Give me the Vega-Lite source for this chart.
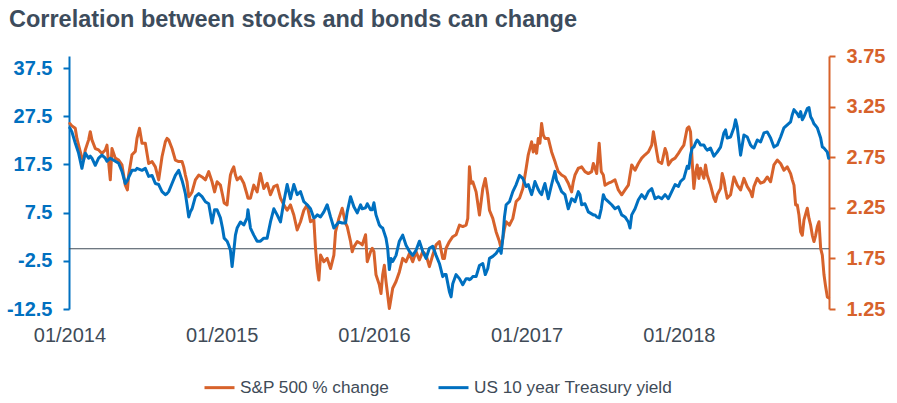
{
  "$schema": "https://vega.github.io/schema/vega-lite/v6.json",
  "width": 760,
  "height": 253,
  "autosize": {"type": "none"},
  "padding": {"left": 69, "top": 56, "right": 68, "bottom": 94},
  "background": "white",
  "title": {
    "text": "Correlation between stocks and bonds can change",
    "anchor": "start",
    "frame": "group",
    "dx": -60,
    "dy": -11,
    "font": "Liberation Sans",
    "fontSize": 23.5,
    "fontWeight": "bold",
    "color": "#3D4C5C"
  },
  "config": {
    "view": {"stroke": null},
    "font": "Liberation Sans",
    "locale": {"number": {"decimal": ".", "thousands": ",", "grouping": [3], "currency": ["$", ""], "minus": "-"}}
  },
  "data": {
    "values": [
      {"d": "2014-01-02", "sp": 26.0, "ty": 3.04},
      {"d": "2014-01-07", "sp": 25.5, "ty": 3.00},
      {"d": "2014-01-15", "sp": 25.0, "ty": 2.89},
      {"d": "2014-01-19", "sp": 22.9, "ty": 2.84},
      {"d": "2014-01-23", "sp": 21.5, "ty": 2.79},
      {"d": "2014-01-31", "sp": 18.8, "ty": 2.64},
      {"d": "2014-02-04", "sp": 18.4, "ty": 2.72},
      {"d": "2014-02-08", "sp": 20.5, "ty": 2.79},
      {"d": "2014-02-16", "sp": 22.6, "ty": 2.74},
      {"d": "2014-02-20", "sp": 24.3, "ty": 2.76},
      {"d": "2014-02-24", "sp": 22.6, "ty": 2.74},
      {"d": "2014-03-04", "sp": 20.8, "ty": 2.67},
      {"d": "2014-03-12", "sp": 20.5, "ty": 2.74},
      {"d": "2014-03-20", "sp": 19.8, "ty": 2.77},
      {"d": "2014-03-28", "sp": 20.5, "ty": 2.74},
      {"d": "2014-04-01", "sp": 21.5, "ty": 2.71},
      {"d": "2014-04-09", "sp": 14.3, "ty": 2.74},
      {"d": "2014-04-13", "sp": 20.8, "ty": 2.73},
      {"d": "2014-04-21", "sp": 18.8, "ty": 2.71},
      {"d": "2014-04-29", "sp": 18.4, "ty": 2.69},
      {"d": "2014-05-07", "sp": 17.4, "ty": 2.61},
      {"d": "2014-05-15", "sp": 13.2, "ty": 2.49},
      {"d": "2014-05-20", "sp": 12.2, "ty": 2.52},
      {"d": "2014-05-23", "sp": 15.3, "ty": 2.55},
      {"d": "2014-05-31", "sp": 19.5, "ty": 2.62},
      {"d": "2014-06-08", "sp": 20.2, "ty": 2.62},
      {"d": "2014-06-12", "sp": 22.9, "ty": 2.64},
      {"d": "2014-06-18", "sp": 25.0, "ty": 2.63},
      {"d": "2014-06-24", "sp": 21.9, "ty": 2.62},
      {"d": "2014-07-02", "sp": 21.9, "ty": 2.64},
      {"d": "2014-07-10", "sp": 17.7, "ty": 2.56},
      {"d": "2014-07-18", "sp": 18.1, "ty": 2.57},
      {"d": "2014-07-26", "sp": 17.0, "ty": 2.49},
      {"d": "2014-08-03", "sp": 14.3, "ty": 2.48},
      {"d": "2014-08-11", "sp": 19.1, "ty": 2.41},
      {"d": "2014-08-19", "sp": 22.2, "ty": 2.38},
      {"d": "2014-08-23", "sp": 22.9, "ty": 2.39},
      {"d": "2014-08-27", "sp": 22.6, "ty": 2.41},
      {"d": "2014-09-04", "sp": 20.8, "ty": 2.49},
      {"d": "2014-09-12", "sp": 18.4, "ty": 2.57},
      {"d": "2014-09-20", "sp": 18.1, "ty": 2.62},
      {"d": "2014-09-28", "sp": 18.1, "ty": 2.52},
      {"d": "2014-10-02", "sp": 17.0, "ty": 2.46},
      {"d": "2014-10-06", "sp": 15.3, "ty": 2.39},
      {"d": "2014-10-10", "sp": 13.9, "ty": 2.28},
      {"d": "2014-10-14", "sp": 10.8, "ty": 2.16},
      {"d": "2014-10-18", "sp": 11.2, "ty": 2.21},
      {"d": "2014-10-22", "sp": 11.8, "ty": 2.24},
      {"d": "2014-10-30", "sp": 14.3, "ty": 2.36},
      {"d": "2014-11-07", "sp": 15.3, "ty": 2.39},
      {"d": "2014-11-15", "sp": 14.9, "ty": 2.36},
      {"d": "2014-11-23", "sp": 14.3, "ty": 2.31},
      {"d": "2014-12-01", "sp": 16.0, "ty": 2.29},
      {"d": "2014-12-09", "sp": 13.9, "ty": 2.10},
      {"d": "2014-12-15", "sp": 11.8, "ty": 2.23},
      {"d": "2014-12-21", "sp": 13.9, "ty": 2.23},
      {"d": "2014-12-29", "sp": 13.2, "ty": 2.15},
      {"d": "2015-01-03", "sp": 11.2, "ty": 2.05},
      {"d": "2015-01-07", "sp": 9.5, "ty": 1.95},
      {"d": "2015-01-14", "sp": 9.1, "ty": 1.92},
      {"d": "2015-01-18", "sp": 12.5, "ty": 1.88},
      {"d": "2015-01-22", "sp": 15.3, "ty": 1.83},
      {"d": "2015-01-26", "sp": 16.3, "ty": 1.67},
      {"d": "2015-01-30", "sp": 17.0, "ty": 1.82},
      {"d": "2015-02-03", "sp": 15.3, "ty": 1.98},
      {"d": "2015-02-07", "sp": 14.3, "ty": 2.05},
      {"d": "2015-02-15", "sp": 14.9, "ty": 2.11},
      {"d": "2015-02-23", "sp": 13.6, "ty": 2.08},
      {"d": "2015-03-03", "sp": 11.2, "ty": 2.15},
      {"d": "2015-03-05", "sp": 10.5, "ty": 2.23},
      {"d": "2015-03-11", "sp": 10.5, "ty": 2.05},
      {"d": "2015-03-19", "sp": 13.2, "ty": 1.98},
      {"d": "2015-03-27", "sp": 11.8, "ty": 1.92},
      {"d": "2015-04-04", "sp": 15.6, "ty": 1.92},
      {"d": "2015-04-12", "sp": 12.5, "ty": 1.95},
      {"d": "2015-04-20", "sp": 13.6, "ty": 1.95},
      {"d": "2015-04-28", "sp": 11.2, "ty": 2.11},
      {"d": "2015-05-06", "sp": 12.9, "ty": 2.24},
      {"d": "2015-05-14", "sp": 13.2, "ty": 2.18},
      {"d": "2015-05-22", "sp": 10.5, "ty": 2.11},
      {"d": "2015-05-30", "sp": 9.1, "ty": 2.31},
      {"d": "2015-06-07", "sp": 8.0, "ty": 2.48},
      {"d": "2015-06-15", "sp": 9.1, "ty": 2.34},
      {"d": "2015-06-23", "sp": 7.0, "ty": 2.48},
      {"d": "2015-07-01", "sp": 3.9, "ty": 2.38},
      {"d": "2015-07-09", "sp": 5.6, "ty": 2.41},
      {"d": "2015-07-17", "sp": 8.0, "ty": 2.31},
      {"d": "2015-07-25", "sp": 9.1, "ty": 2.28},
      {"d": "2015-08-02", "sp": 5.6, "ty": 2.24},
      {"d": "2015-08-10", "sp": 6.0, "ty": 2.15},
      {"d": "2015-08-14", "sp": 0.1, "ty": 2.16},
      {"d": "2015-08-18", "sp": -4.1, "ty": 2.18},
      {"d": "2015-08-22", "sp": -6.5, "ty": 2.17},
      {"d": "2015-08-26", "sp": -1.3, "ty": 2.16},
      {"d": "2015-09-03", "sp": -2.7, "ty": 2.21},
      {"d": "2015-09-11", "sp": -2.0, "ty": 2.28},
      {"d": "2015-09-19", "sp": -4.1, "ty": 2.16},
      {"d": "2015-09-27", "sp": -1.3, "ty": 2.05},
      {"d": "2015-10-01", "sp": 3.5, "ty": 2.07},
      {"d": "2015-10-09", "sp": 6.3, "ty": 2.11},
      {"d": "2015-10-17", "sp": 8.4, "ty": 2.10},
      {"d": "2015-10-25", "sp": 5.3, "ty": 2.10},
      {"d": "2015-10-29", "sp": 4.6, "ty": 2.21},
      {"d": "2015-11-06", "sp": 1.5, "ty": 2.36},
      {"d": "2015-11-10", "sp": -0.6, "ty": 2.31},
      {"d": "2015-11-14", "sp": 0.4, "ty": 2.26},
      {"d": "2015-11-22", "sp": 1.5, "ty": 2.20},
      {"d": "2015-11-30", "sp": 1.1, "ty": 2.28},
      {"d": "2015-12-04", "sp": 0.8, "ty": 2.24},
      {"d": "2015-12-12", "sp": 2.9, "ty": 2.25},
      {"d": "2015-12-16", "sp": -2.7, "ty": 2.29},
      {"d": "2015-12-24", "sp": -0.6, "ty": 2.23},
      {"d": "2015-12-28", "sp": 0.1, "ty": 2.23},
      {"d": "2016-01-01", "sp": -0.6, "ty": 2.30},
      {"d": "2016-01-06", "sp": -5.4, "ty": 2.18},
      {"d": "2016-01-14", "sp": -7.5, "ty": 2.08},
      {"d": "2016-01-18", "sp": -9.3, "ty": 2.06},
      {"d": "2016-01-22", "sp": -5.4, "ty": 2.05},
      {"d": "2016-01-26", "sp": -3.4, "ty": 2.00},
      {"d": "2016-01-30", "sp": -6.8, "ty": 1.95},
      {"d": "2016-02-03", "sp": -9.6, "ty": 1.85},
      {"d": "2016-02-07", "sp": -12.4, "ty": 1.64},
      {"d": "2016-02-11", "sp": -10.3, "ty": 1.75},
      {"d": "2016-02-15", "sp": -8.2, "ty": 1.72},
      {"d": "2016-02-23", "sp": -6.8, "ty": 1.78},
      {"d": "2016-03-02", "sp": -4.8, "ty": 1.92},
      {"d": "2016-03-10", "sp": -2.0, "ty": 1.98},
      {"d": "2016-03-18", "sp": -2.7, "ty": 1.88},
      {"d": "2016-03-26", "sp": -1.0, "ty": 1.82},
      {"d": "2016-04-03", "sp": -2.7, "ty": 1.78},
      {"d": "2016-04-11", "sp": -0.6, "ty": 1.83},
      {"d": "2016-04-19", "sp": -2.3, "ty": 1.92},
      {"d": "2016-04-27", "sp": -0.6, "ty": 1.82},
      {"d": "2016-05-05", "sp": -1.3, "ty": 1.75},
      {"d": "2016-05-13", "sp": -3.7, "ty": 1.85},
      {"d": "2016-05-21", "sp": -1.3, "ty": 1.87},
      {"d": "2016-05-29", "sp": 0.8, "ty": 1.78},
      {"d": "2016-06-06", "sp": 1.5, "ty": 1.70},
      {"d": "2016-06-14", "sp": -2.0, "ty": 1.57},
      {"d": "2016-06-18", "sp": -2.0, "ty": 1.59},
      {"d": "2016-06-22", "sp": 0.1, "ty": 1.59},
      {"d": "2016-06-30", "sp": 1.5, "ty": 1.42},
      {"d": "2016-07-04", "sp": 2.0, "ty": 1.37},
      {"d": "2016-07-08", "sp": 2.5, "ty": 1.50},
      {"d": "2016-07-16", "sp": 2.9, "ty": 1.59},
      {"d": "2016-07-24", "sp": 4.9, "ty": 1.55},
      {"d": "2016-08-01", "sp": 4.6, "ty": 1.49},
      {"d": "2016-08-09", "sp": 4.9, "ty": 1.55},
      {"d": "2016-08-13", "sp": 6.3, "ty": 1.55},
      {"d": "2016-08-17", "sp": 17.0, "ty": 1.54},
      {"d": "2016-08-21", "sp": 13.6, "ty": 1.55},
      {"d": "2016-08-25", "sp": 13.9, "ty": 1.57},
      {"d": "2016-09-02", "sp": 11.8, "ty": 1.57},
      {"d": "2016-09-10", "sp": 7.0, "ty": 1.68},
      {"d": "2016-09-18", "sp": 12.5, "ty": 1.70},
      {"d": "2016-09-24", "sp": 14.6, "ty": 1.59},
      {"d": "2016-09-30", "sp": 11.2, "ty": 1.65},
      {"d": "2016-10-04", "sp": 8.0, "ty": 1.75},
      {"d": "2016-10-12", "sp": 6.3, "ty": 1.77},
      {"d": "2016-10-20", "sp": 3.5, "ty": 1.80},
      {"d": "2016-10-28", "sp": 1.5, "ty": 1.85},
      {"d": "2016-11-01", "sp": 0.1, "ty": 1.80},
      {"d": "2016-11-05", "sp": 2.2, "ty": 1.95},
      {"d": "2016-11-09", "sp": 4.2, "ty": 2.16},
      {"d": "2016-11-13", "sp": 5.6, "ty": 2.28},
      {"d": "2016-11-21", "sp": 4.9, "ty": 2.31},
      {"d": "2016-11-29", "sp": 6.3, "ty": 2.41},
      {"d": "2016-12-07", "sp": 9.8, "ty": 2.48},
      {"d": "2016-12-15", "sp": 10.5, "ty": 2.57},
      {"d": "2016-12-23", "sp": 12.5, "ty": 2.54},
      {"d": "2016-12-31", "sp": 16.7, "ty": 2.46},
      {"d": "2017-01-05", "sp": 19.5, "ty": 2.48},
      {"d": "2017-01-13", "sp": 22.2, "ty": 2.38},
      {"d": "2017-01-17", "sp": 20.1, "ty": 2.44},
      {"d": "2017-01-21", "sp": 21.5, "ty": 2.51},
      {"d": "2017-01-25", "sp": 19.8, "ty": 2.47},
      {"d": "2017-01-29", "sp": 22.9, "ty": 2.43},
      {"d": "2017-02-02", "sp": 21.9, "ty": 2.40},
      {"d": "2017-02-06", "sp": 26.0, "ty": 2.38},
      {"d": "2017-02-10", "sp": 23.6, "ty": 2.44},
      {"d": "2017-02-14", "sp": 22.9, "ty": 2.49},
      {"d": "2017-02-22", "sp": 22.9, "ty": 2.34},
      {"d": "2017-03-02", "sp": 20.1, "ty": 2.48},
      {"d": "2017-03-10", "sp": 18.1, "ty": 2.61},
      {"d": "2017-03-14", "sp": 17.0, "ty": 2.52},
      {"d": "2017-03-18", "sp": 16.0, "ty": 2.49},
      {"d": "2017-03-26", "sp": 15.3, "ty": 2.41},
      {"d": "2017-04-03", "sp": 14.9, "ty": 2.38},
      {"d": "2017-04-11", "sp": 13.6, "ty": 2.24},
      {"d": "2017-04-19", "sp": 11.8, "ty": 2.34},
      {"d": "2017-04-23", "sp": 13.9, "ty": 2.33},
      {"d": "2017-04-27", "sp": 15.3, "ty": 2.31},
      {"d": "2017-05-05", "sp": 16.7, "ty": 2.41},
      {"d": "2017-05-09", "sp": 16.8, "ty": 2.38},
      {"d": "2017-05-13", "sp": 17.0, "ty": 2.28},
      {"d": "2017-05-21", "sp": 16.0, "ty": 2.29},
      {"d": "2017-05-29", "sp": 15.6, "ty": 2.21},
      {"d": "2017-06-06", "sp": 16.0, "ty": 2.19},
      {"d": "2017-06-10", "sp": 17.7, "ty": 2.18},
      {"d": "2017-06-14", "sp": 16.7, "ty": 2.18},
      {"d": "2017-06-18", "sp": 15.6, "ty": 2.16},
      {"d": "2017-06-24", "sp": 21.9, "ty": 2.15},
      {"d": "2017-06-29", "sp": 16.0, "ty": 2.24},
      {"d": "2017-07-04", "sp": 15.3, "ty": 2.38},
      {"d": "2017-07-08", "sp": 13.2, "ty": 2.34},
      {"d": "2017-07-16", "sp": 13.6, "ty": 2.31},
      {"d": "2017-07-24", "sp": 13.9, "ty": 2.28},
      {"d": "2017-08-01", "sp": 14.3, "ty": 2.24},
      {"d": "2017-08-09", "sp": 12.2, "ty": 2.26},
      {"d": "2017-08-17", "sp": 11.2, "ty": 2.18},
      {"d": "2017-08-25", "sp": 12.2, "ty": 2.16},
      {"d": "2017-09-02", "sp": 13.2, "ty": 2.11},
      {"d": "2017-09-06", "sp": 15.3, "ty": 2.05},
      {"d": "2017-09-10", "sp": 17.4, "ty": 2.18},
      {"d": "2017-09-18", "sp": 16.3, "ty": 2.24},
      {"d": "2017-09-26", "sp": 17.7, "ty": 2.33},
      {"d": "2017-10-04", "sp": 18.8, "ty": 2.38},
      {"d": "2017-10-12", "sp": 19.5, "ty": 2.34},
      {"d": "2017-10-20", "sp": 20.1, "ty": 2.41},
      {"d": "2017-10-28", "sp": 21.5, "ty": 2.44},
      {"d": "2017-11-01", "sp": 24.3, "ty": 2.39},
      {"d": "2017-11-05", "sp": 22.2, "ty": 2.34},
      {"d": "2017-11-09", "sp": 20.1, "ty": 2.35},
      {"d": "2017-11-13", "sp": 18.1, "ty": 2.36},
      {"d": "2017-11-21", "sp": 17.7, "ty": 2.34},
      {"d": "2017-11-29", "sp": 20.8, "ty": 2.38},
      {"d": "2017-12-03", "sp": 19.8, "ty": 2.36},
      {"d": "2017-12-07", "sp": 17.4, "ty": 2.34},
      {"d": "2017-12-15", "sp": 18.4, "ty": 2.41},
      {"d": "2017-12-23", "sp": 18.8, "ty": 2.48},
      {"d": "2017-12-31", "sp": 19.8, "ty": 2.46},
      {"d": "2018-01-05", "sp": 20.5, "ty": 2.51},
      {"d": "2018-01-13", "sp": 21.5, "ty": 2.54},
      {"d": "2018-01-21", "sp": 25.0, "ty": 2.66},
      {"d": "2018-01-25", "sp": 25.3, "ty": 2.64},
      {"d": "2018-01-29", "sp": 24.3, "ty": 2.77},
      {"d": "2018-02-02", "sp": 18.1, "ty": 2.84},
      {"d": "2018-02-06", "sp": 12.5, "ty": 2.85},
      {"d": "2018-02-10", "sp": 15.6, "ty": 2.89},
      {"d": "2018-02-14", "sp": 17.4, "ty": 2.92},
      {"d": "2018-02-18", "sp": 14.6, "ty": 2.90},
      {"d": "2018-02-22", "sp": 16.7, "ty": 2.87},
      {"d": "2018-03-02", "sp": 14.6, "ty": 2.87},
      {"d": "2018-03-06", "sp": 17.4, "ty": 2.84},
      {"d": "2018-03-10", "sp": 15.3, "ty": 2.82},
      {"d": "2018-03-18", "sp": 13.2, "ty": 2.84},
      {"d": "2018-03-26", "sp": 10.5, "ty": 2.76},
      {"d": "2018-03-30", "sp": 9.8, "ty": 2.78},
      {"d": "2018-04-03", "sp": 11.2, "ty": 2.80},
      {"d": "2018-04-11", "sp": 12.5, "ty": 2.85},
      {"d": "2018-04-15", "sp": 15.6, "ty": 2.92},
      {"d": "2018-04-19", "sp": 14.3, "ty": 2.99},
      {"d": "2018-04-23", "sp": 12.2, "ty": 3.02},
      {"d": "2018-04-27", "sp": 10.5, "ty": 2.94},
      {"d": "2018-05-05", "sp": 11.2, "ty": 2.95},
      {"d": "2018-05-13", "sp": 14.9, "ty": 3.04},
      {"d": "2018-05-17", "sp": 14.1, "ty": 3.12},
      {"d": "2018-05-21", "sp": 13.2, "ty": 3.05},
      {"d": "2018-05-29", "sp": 12.2, "ty": 2.77},
      {"d": "2018-06-06", "sp": 14.6, "ty": 2.97},
      {"d": "2018-06-14", "sp": 12.9, "ty": 2.95},
      {"d": "2018-06-22", "sp": 11.8, "ty": 2.87},
      {"d": "2018-06-26", "sp": 10.8, "ty": 2.85},
      {"d": "2018-06-30", "sp": 12.9, "ty": 2.84},
      {"d": "2018-07-08", "sp": 14.6, "ty": 2.92},
      {"d": "2018-07-16", "sp": 13.6, "ty": 2.90},
      {"d": "2018-07-24", "sp": 13.9, "ty": 2.99},
      {"d": "2018-08-01", "sp": 14.9, "ty": 3.00},
      {"d": "2018-08-09", "sp": 13.9, "ty": 2.94},
      {"d": "2018-08-17", "sp": 17.4, "ty": 2.85},
      {"d": "2018-08-25", "sp": 18.4, "ty": 2.87},
      {"d": "2018-09-02", "sp": 17.7, "ty": 2.95},
      {"d": "2018-09-10", "sp": 16.3, "ty": 3.04},
      {"d": "2018-09-18", "sp": 17.0, "ty": 3.07},
      {"d": "2018-09-26", "sp": 15.6, "ty": 3.10},
      {"d": "2018-09-30", "sp": 14.3, "ty": 3.17},
      {"d": "2018-10-04", "sp": 13.2, "ty": 3.22},
      {"d": "2018-10-08", "sp": 9.1, "ty": 3.20},
      {"d": "2018-10-12", "sp": 9.1, "ty": 3.18},
      {"d": "2018-10-16", "sp": 7.0, "ty": 3.15},
      {"d": "2018-10-20", "sp": 3.5, "ty": 3.20},
      {"d": "2018-10-24", "sp": 2.8, "ty": 3.12},
      {"d": "2018-10-28", "sp": 6.0, "ty": 3.15},
      {"d": "2018-11-05", "sp": 8.4, "ty": 3.23},
      {"d": "2018-11-09", "sp": 6.3, "ty": 3.24},
      {"d": "2018-11-13", "sp": 4.9, "ty": 3.15},
      {"d": "2018-11-17", "sp": 2.8, "ty": 3.12},
      {"d": "2018-11-21", "sp": 1.5, "ty": 3.08},
      {"d": "2018-11-25", "sp": 2.8, "ty": 3.06},
      {"d": "2018-11-29", "sp": 4.6, "ty": 3.04},
      {"d": "2018-12-03", "sp": 5.6, "ty": 2.99},
      {"d": "2018-12-07", "sp": 0.1, "ty": 2.94},
      {"d": "2018-12-11", "sp": -1.3, "ty": 2.85},
      {"d": "2018-12-15", "sp": -5.4, "ty": 2.84},
      {"d": "2018-12-19", "sp": -7.9, "ty": 2.82},
      {"d": "2018-12-23", "sp": -10.0, "ty": 2.80},
      {"d": "2018-12-26", "sp": -10.2, "ty": 2.74}
    ]
  },
  "layer": [
    {
      "layer": [
        {
          "data": {"values": [{}]},
          "mark": {"type": "rule", "color": "#3F4B57", "strokeWidth": 1},
          "encoding": {
            "y": {
              "datum": 0,
              "type": "quantitative",
              "axis": {
                "orient": "left",
                "title": null,
                "values": [-12.5, -2.5, 7.5, 17.5, 27.5, 37.5],
                "format": ".1f",
                "grid": false,
                "domainColor": "#0070C0",
                "domainWidth": 2,
                "tickColor": "#0070C0",
                "tickWidth": 2,
                "tickSize": 6,
                "labelPadding": 11,
                "labelFont": "Liberation Sans",
                "labelFontSize": 20,
                "labelFontWeight": "bold",
                "labelColor": "#0070C0",
                "labelOverlap": false,
                "labelFlush": false
              }
            }
          }
        },
        {
          "mark": {"type": "line", "strokeWidth": 3, "strokeJoin": "round", "strokeCap": "round"},
          "encoding": {
            "x": {
              "field": "d",
              "type": "temporal",
              "scale": {
                "type": "utc",
                "domain": [
                  {"year": 2013, "month": 12, "date": 31, "utc": true},
                  {"year": 2018, "month": 12, "date": 27, "utc": true}
                ]
              },
              "axis": {
                "title": null,
                "values": [
                  {"year": 2014, "month": 1, "date": 1, "utc": true},
                  {"year": 2015, "month": 1, "date": 1, "utc": true},
                  {"year": 2016, "month": 1, "date": 1, "utc": true},
                  {"year": 2017, "month": 1, "date": 1, "utc": true},
                  {"year": 2018, "month": 1, "date": 1, "utc": true}
                ],
                "labelExpr": "utcFormat(datum.value, '%m/%Y')",
                "domain": false,
                "ticks": false,
                "grid": false,
                "labelPadding": 16,
                "labelFont": "Liberation Sans",
                "labelFontSize": 20,
                "labelColor": "#404B57",
                "labelOverlap": false,
                "labelFlush": false
              }
            },
            "y": {
              "field": "sp",
              "type": "quantitative",
              "scale": {"domain": [-12.5, 40], "nice": false, "zero": false},
              "axis": {
                "orient": "left",
                "title": null,
                "values": [-12.5, -2.5, 7.5, 17.5, 27.5, 37.5],
                "format": ".1f",
                "grid": false,
                "domainColor": "#0070C0",
                "domainWidth": 2,
                "tickColor": "#0070C0",
                "tickWidth": 2,
                "tickSize": 6,
                "labelPadding": 11,
                "labelFont": "Liberation Sans",
                "labelFontSize": 20,
                "labelFontWeight": "bold",
                "labelColor": "#0070C0",
                "labelOverlap": false,
                "labelFlush": false
              }
            },
            "color": {
              "datum": "S&P 500 % change",
              "scale": {
                "domain": ["S&P 500 % change", "US 10 year Treasury yield"],
                "range": ["#D7622B", "#0070C0"]
              },
              "legend": {
                "orient": "none",
                "legendX": 134,
                "legendY": 315,
                "direction": "horizontal",
                "title": null,
                "padding": 0,
                "symbolType": "stroke",
                "symbolSize": 900,
                "symbolStrokeWidth": 3,
                "labelFont": "Liberation Sans",
                "labelFontSize": 17.2,
                "labelColor": "#404B57",
                "labelOffset": 4,
                "labelLimit": 400,
                "columnPadding": 42
              }
            }
          }
        }
      ]
    },
    {
      "mark": {"type": "line", "strokeWidth": 3, "strokeJoin": "round", "strokeCap": "round"},
      "encoding": {
        "x": {
          "field": "d",
          "type": "temporal",
          "axis": {
            "title": null,
            "values": [
              {"year": 2014, "month": 1, "date": 1, "utc": true},
              {"year": 2015, "month": 1, "date": 1, "utc": true},
              {"year": 2016, "month": 1, "date": 1, "utc": true},
              {"year": 2017, "month": 1, "date": 1, "utc": true},
              {"year": 2018, "month": 1, "date": 1, "utc": true}
            ],
            "labelExpr": "utcFormat(datum.value, '%m/%Y')",
            "domain": false,
            "ticks": false,
            "grid": false,
            "labelPadding": 16,
            "labelFont": "Liberation Sans",
            "labelFontSize": 20,
            "labelColor": "#404B57",
            "labelOverlap": false,
            "labelFlush": false
          }
        },
        "y": {
          "field": "ty",
          "type": "quantitative",
          "scale": {"domain": [1.25, 3.75], "nice": false, "zero": false},
          "axis": {
            "orient": "right",
            "title": null,
            "values": [1.25, 1.75, 2.25, 2.75, 3.25, 3.75],
            "format": ".2f",
            "grid": false,
            "domainColor": "#D7622B",
            "domainWidth": 2,
            "tickColor": "#D7622B",
            "tickWidth": 2,
            "tickSize": 6,
            "labelPadding": 11,
            "labelFont": "Liberation Sans",
            "labelFontSize": 20,
            "labelFontWeight": "bold",
            "labelColor": "#D7622B",
            "labelOverlap": false,
            "labelFlush": false
          }
        },
        "color": {"datum": "US 10 year Treasury yield"}
      }
    }
  ],
  "resolve": {"scale": {"y": "independent"}}
}
